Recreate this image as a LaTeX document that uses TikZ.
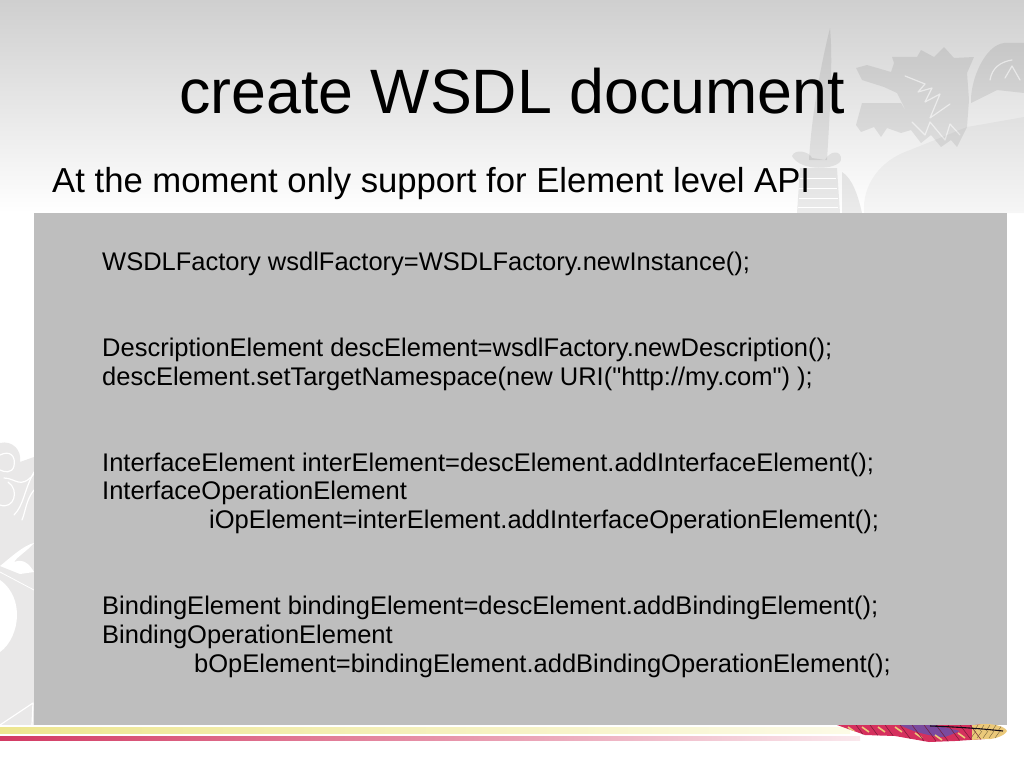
\documentclass[tikz,border=0pt]{standalone}
\usepackage{fontspec}
\setmainfont{Liberation Sans}[Ligatures=TeXOff]
\usetikzlibrary{calc}
\definecolor{panelgray}{HTML}{BEBEBE}
\definecolor{topgray}{HTML}{CFCFCF}
\definecolor{stripeY}{HTML}{EDE690}
\definecolor{stripeYe}{HTML}{FCFBE6}
\definecolor{stripeR}{HTML}{D33A63}
\definecolor{featherR}{HTML}{D5305E}
\definecolor{featherG}{HTML}{EBC97A}
\definecolor{featherP}{HTML}{7A4A9E}
\definecolor{leftgray}{HTML}{E9E8E8}
\tikzset{
  titletext/.style={anchor=base west,inner sep=0pt,font=\fontsize{62.7}{62.7}\selectfont,text=black},
  subtext/.style={anchor=base west,inner sep=0pt,font=\fontsize{34.7}{34.7}\selectfont,text=black},
  codetext/.style={anchor=base west,inner sep=0pt,font=\fontsize{25.5}{25.5}\selectfont,text=black},
  wm/.style={fill=black,fill opacity=0.08,draw=none},
  wl/.style={draw=white,line width=1.2pt,line cap=round,line join=round,fill=none},
  barb/.style={draw=featherG,line width=1.6pt}
}
\begin{document}
\begin{tikzpicture}[x=1pt,y=-1pt]
\useasboundingbox (0,0) rectangle (1024,768);
\fill[white] (0,0) rectangle (1024,768);
\shade[top color=topgray,bottom color=white,draw=none] (0,0) rectangle (1024,213);
% sword watermark
\fill[wm] (830,28) .. controls (822,60) and (812,110) .. (809,160) -- (827,160) .. controls (830,110) and (833,60) .. (830,28) -- cycle;
\fill[wm] (792,156) .. controls (795,148) and (810,152) .. (812,158) -- (825,160) .. controls (830,150) and (842,150) .. (841,160) .. controls (838,170) and (800,172) .. (792,156) -- cycle;
\fill[wm] (800,168) -- (837,168) -- (840,213) -- (797,213) -- cycle;
\draw[white,line width=1pt] (800,178) -- (836,178) (799,188) -- (837,188) (799,198) -- (838,198) (798,207) -- (838,207);
\fill[wm] (842,172) .. controls (852,178) and (858,195) .. (862,213) -- (842,213) -- cycle;
% head watermark
\fill[wm] (856,68) -- (867,65) -- (891,72) -- (894,63) -- (892,57) -- (917,57) -- (921,50) -- (934,57) -- (944,47) -- (954,58) -- (974,57) -- (967,73) -- (969,100) -- (967,127) -- (957,147) -- (951,140) -- (941,147) -- (931,135) -- (921,143) -- (911,130) -- (901,133) -- (887,128) -- (881,137) -- (874,127) -- (861,132) -- (856,125) -- (862,103) -- (901,103) -- (907,113) -- (897,93) -- (884,87) -- (862,80) -- cycle;
\draw[wl,opacity=.55] (905,76) -- (925,84) -- (918,92) -- (932,88) -- (925,102) -- (940,94) -- (930,118) -- (950,104);
\draw[wl,opacity=.55] (912,122) -- (925,135) -- (930,122) -- (945,140) -- (950,124) -- (960,135);
% crest and body watermark
\fill[wm] (971,103) .. controls (970,80) and (985,45) .. (1004,43) -- (1024,43) -- (1024,93) -- (997,90) -- cycle;
\draw[wl,opacity=.55] (990,80) .. controls (992,68) and (1000,62) .. (1012,60) (1005,78) -- (1012,66) -- (1020,80);
\fill[black,opacity=0.035] (864,213) .. controls (862,185) and (880,160) .. (910,150) -- (967,127) -- (1024,117) -- (1024,213) -- cycle;
% left watermark
\fill[leftgray] (0,443) .. controls (12,440) and (22,450) .. (20,462) -- (34,457) -- (34,725) -- (0,725) -- cycle;
\draw[wl] (0,455) .. controls (10,450) and (16,456) .. (14,466) .. controls (12,474) and (4,472) .. (0,470);
\draw[wl] (4,478) .. controls (16,478) and (20,490) .. (34,474);
\draw[wl] (0,505) .. controls (14,510) and (20,490) .. (8,482);
\draw[wl] (34,472) .. controls (24,490) and (24,505) .. (14,515) (34,490) .. controls (26,500) and (26,510) .. (22,520);
\fill[white] (0,566) .. controls (10,558) and (24,545) .. (34,543) .. controls (26,552) and (18,556) .. (14,562) .. controls (24,558) and (30,565) .. (34,572) -- (20,574) -- cycle;
\fill[white] (0,580) .. controls (14,590) and (17,605) .. (17,615) .. controls (17,630) and (10,645) .. (0,652) -- cycle;
\draw[wl,line width=.8pt] (0,572) -- (34,590);
\draw[wl] (0,725) -- (33,703) -- (32,725);
% panel
\node[fill=panelgray,draw=none,minimum width=973pt,minimum height=512pt,inner sep=0pt,outer sep=0pt,anchor=north west] (panel) at (34,213) {};
% stripes
\fill[white] (0,725) rectangle (840,734);
\shade[left color=stripeY,right color=stripeYe,draw=none] (0,727) rectangle (850,733);
\shade[left color=stripeR,right color=stripeR!12!white,draw=none] (0,736) rectangle (860,740);
% feather
\begin{scope}
\clip (837,725) -- (975,725) .. controls (990,722) and (1005,726) .. (1007,731) .. controls (1004,737) and (990,740) .. (985,739) -- (955,741) -- (929,742) -- (895,736) -- (865,735) -- cycle;
\fill[featherR] (830,722) rectangle (985,745);
\fill[featherP] (900,725) .. controls (915,733) and (935,737) .. (945,737) -- (960,731) -- (935,725) -- cycle;
\fill[featherG] (972,720) rectangle (1010,745);
\foreach \x/\y in {848/727,862/727,878/727,895/727,915/733,935/735,958/733} {\draw[barb] (\x,\y) -- ++(7,5);}
\foreach \x in {856,870,885,900,912,924,936,948,960,970} {\draw[black!45!featherR,line width=.5pt] (\x,725) -- ++(12,16);}
\foreach \x in {978,984,990,996,1002} {\draw[black!50!featherG,line width=.4pt] (\x,725) -- ++(-4,6) ++(4,-6) ++(-2,6) -- ++(-5,7);}
\end{scope}
\draw[black!85!featherP,line width=1.1pt] (930,726) .. controls (960,727) and (985,729) .. (1003,731);
% text
\node[titletext] (title) at (179,113) {create WSDL document};
\node[subtext] (sub) at (52,192) {At the moment only support for Element level API};
\node[codetext] (l1) at (102,270) {WSDLFactory wsdlFactory=WSDLFactory.newInstance();};
\node[codetext] (l2) at (102,356) {DescriptionElement descElement=wsdlFactory.newDescription();};
\node[codetext] (l3) at (102,385) {descElement.setTargetNamespace(new URI("http://my.com") );};
\node[codetext] (l4) at (102,471) {InterfaceElement interElement=descElement.addInterfaceElement();};
\node[codetext] (l5) at (102,499) {InterfaceOperationElement};
\node[codetext] (l6) at (209,528) {iOpElement=interElement.addInterfaceOperationElement();};
\node[codetext] (l7) at (102,614) {BindingElement bindingElement=descElement.addBindingElement();};
\node[codetext] (l8) at (102,643) {BindingOperationElement};
\node[codetext] (l9) at (194,672) {bOpElement=bindingElement.addBindingOperationElement();};
\end{tikzpicture}
\end{document}
